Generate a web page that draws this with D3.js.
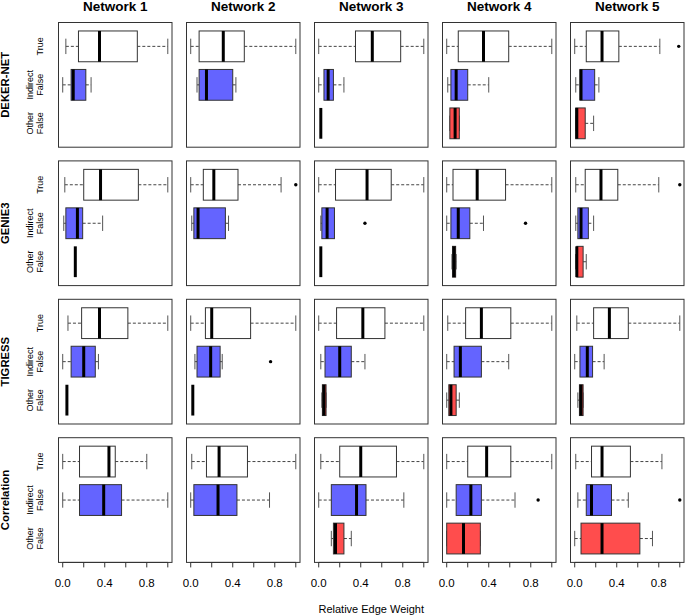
<!DOCTYPE html>
<html>
<head>
<meta charset="utf-8">
<script src="https://cdn.jsdelivr.net/npm/d3@7"></script>
<style>
  body { margin: 0; background: #fff; }
  svg { display: block; font-family: "Liberation Sans", Arial, sans-serif; }
</style>
</head>
<body>
<svg id="chart" width="685" height="615"></svg>
<script>
// --- Data: [lower whisker, Q1, median, Q3, upper whisker] per group ---
const methods = ["DEKER-NET", "GENIE3", "TIGRESS", "Correlation"];
const networks = ["Network 1", "Network 2", "Network 3", "Network 4", "Network 5"];
const groups = ["True", "Indirect False", "Other False"];
const xTicks = [0, 0.2, 0.4, 0.6, 0.8, 1.0];
const xTickLabels = [0, 0.4, 0.8];

// each network: [True, Indirect False, Other False]
const dekerNet = [
  [[0.03, 0.15, 0.35, 0.71, 1.0], [0.0, 0.08, 0.10, 0.22, 0.27], null],
  [[0.0, 0.08, 0.31, 0.51, 1.0], [0.06, 0.08, 0.15, 0.40, 0.43], null],
  [[0.0, 0.35, 0.51, 0.78, 1.0], [0.0, 0.05, 0.09, 0.14, 0.24], [0.02, 0.02, 0.02, 0.02, 0.02]],
  [[0.0, 0.11, 0.35, 0.59, 1.0], [0.01, 0.04, 0.09, 0.20, 0.40], [0.03, 0.03, 0.08, 0.12, 0.12]],
  [[0.0, 0.11, 0.26, 0.42, 0.81], [0.01, 0.05, 0.06, 0.19, 0.23], [0.01, 0.01, 0.02, 0.10, 0.18]]
];
const genie3 = [
  [[0.02, 0.20, 0.36, 0.72, 1.0], [0.01, 0.03, 0.14, 0.19, 0.38], [0.12, 0.12, 0.12, 0.12, 0.12]],
  [[0.0, 0.12, 0.22, 0.45, 0.86], [0.01, 0.03, 0.07, 0.33, 0.36], null],
  [[0.0, 0.16, 0.46, 0.69, 1.0], [0.02, 0.03, 0.08, 0.15, 0.15], [0.02, 0.02, 0.02, 0.02, 0.02]],
  [[0.0, 0.06, 0.29, 0.56, 1.0], [0.0, 0.04, 0.11, 0.22, 0.35], [0.05, 0.055, 0.07, 0.085, 0.09]],
  [[0.01, 0.10, 0.25, 0.41, 0.80], [0.01, 0.03, 0.06, 0.13, 0.18], [0.01, 0.02, 0.02, 0.08, 0.11]]
];
const tigress = [
  [[0.05, 0.18, 0.35, 0.62, 1.0], [0.0, 0.08, 0.20, 0.31, 0.34], [0.04, 0.04, 0.04, 0.04, 0.04]],
  [[0.0, 0.14, 0.20, 0.57, 1.0], [0.04, 0.06, 0.19, 0.28, 0.30], [0.02, 0.02, 0.02, 0.02, 0.02]],
  [[0.0, 0.17, 0.42, 0.63, 1.0], [0.02, 0.06, 0.20, 0.31, 0.44], [0.03, 0.035, 0.05, 0.07, 0.07]],
  [[0.01, 0.18, 0.33, 0.61, 1.0], [0.0, 0.07, 0.13, 0.33, 0.59], [0.0, 0.02, 0.04, 0.09, 0.12]],
  [[0.02, 0.18, 0.33, 0.51, 1.0], [0.0, 0.05, 0.12, 0.17, 0.28], [0.03, 0.045, 0.06, 0.08, 0.08]]
];
const correlation = [
  [[0.0, 0.16, 0.44, 0.50, 0.80], [0.0, 0.16, 0.39, 0.56, 1.0], null],
  [[0.01, 0.15, 0.27, 0.54, 1.0], [0.0, 0.03, 0.26, 0.44, 0.75], null],
  [[0.02, 0.20, 0.40, 0.74, 1.0], [0.0, 0.12, 0.36, 0.45, 0.81], [0.12, 0.14, 0.16, 0.24, 0.31]],
  [[0.0, 0.20, 0.38, 0.61, 1.0], [0.0, 0.09, 0.23, 0.33, 0.65], [0.0, 0.0, 0.16, 0.32, 0.32]],
  [[0.01, 0.16, 0.26, 0.53, 0.83], [0.03, 0.11, 0.16, 0.35, 0.51], [0.0, 0.06, 0.26, 0.62, 0.74]]
];
// outliers: [method, network, group, value]
const outliers = [
  [0, 4, 0, 0.99],
  [1, 1, 0, 1.0], [1, 2, 1, 0.44], [1, 3, 1, 0.75], [1, 4, 0, 1.0],
  [2, 1, 1, 0.76],
  [3, 3, 1, 0.87], [3, 4, 1, 1.0]
];
const stats = [dekerNet, genie3, tigress, correlation];

// --- Layout ---
const svg = d3.select("#chart");
const panelW = 113.5, panelH = 124.7;
const colStep = 128, rowStep = 138.4;
const left0 = 58.5, top0 = 22.5;

const fill = d3.scaleOrdinal().domain(groups).range(["#ffffff", "#6464ff", "#ff4d4d"]);
const x = d3.scaleLinear().domain([-0.04, 1.04]).range([0, panelW]);
const y = d3.scalePoint().domain(groups).range([0, panelH]).padding(0.62);
const half = y.step() * 0.4;

// column titles
svg.selectAll(".col-title")
  .data(networks)
  .join("text")
  .attr("x", (d, i) => left0 + i * colStep + panelW / 2)
  .attr("y", 11)
  .attr("text-anchor", "middle")
  .style("font-weight", "bold")
  .style("font-size", "13.5px")
  .text(d => d);

methods.forEach((m, r) => {
  const top = top0 + r * rowStep;

  // row title
  svg.append("text")
    .attr("transform", `translate(9,${top + y(groups[1])}) rotate(-90)`)
    .attr("text-anchor", "middle")
    .style("font-weight", "bold")
    .style("font-size", "11.3px")
    .text(m);

  // group labels (two lines when needed)
  groups.forEach(g => {
    const lines = g.split(" ");
    lines.forEach((ln, k) => {
      const bx = 43 - (lines.length - 1 - k) * 10;
      svg.append("text")
        .attr("transform", `translate(${bx},${top + y(g)}) rotate(-90)`)
        .attr("text-anchor", "middle")
        .style("font-size", "9px")
        .text(ln);
    });
  });

  networks.forEach((n, c) => {
    const left = left0 + c * colStep;
    const gp = svg.append("g").attr("transform", `translate(${left},${top})`);

    gp.append("rect")
      .attr("width", panelW).attr("height", panelH)
      .attr("fill", "none").attr("stroke", "#333").attr("stroke-width", 1);

    groups.forEach((g, gi) => {
      const s = stats[r][c][gi];
      if (!s) return;
      const [lo, q1, med, q3, hi] = s;
      const cy = y(g);
      // whiskers
      gp.append("line")
        .attr("x1", x(lo)).attr("x2", x(q1)).attr("y1", cy).attr("y2", cy)
        .attr("stroke", "#444").attr("stroke-dasharray", "3,2");
      gp.append("line")
        .attr("x1", x(q3)).attr("x2", x(hi)).attr("y1", cy).attr("y2", cy)
        .attr("stroke", "#444").attr("stroke-dasharray", "3,2");
      // staples
      [lo, hi].forEach(v => {
        gp.append("line")
          .attr("x1", x(v)).attr("x2", x(v))
          .attr("y1", cy - half / 2).attr("y2", cy + half / 2)
          .attr("stroke", "#555");
      });
      // box
      gp.append("rect")
        .attr("x", x(q1)).attr("y", cy - half)
        .attr("width", x(q3) - x(q1)).attr("height", 2 * half)
        .attr("fill", fill(g)).attr("stroke", "#333");
      // median
      gp.append("line")
        .attr("x1", x(med)).attr("x2", x(med))
        .attr("y1", cy - half).attr("y2", cy + half)
        .attr("stroke", "#000").attr("stroke-width", 3);
    });

    outliers.filter(o => o[0] === r && o[1] === c).forEach(o => {
      gp.append("circle")
        .attr("cx", x(o[3])).attr("cy", y(groups[o[2]]))
        .attr("r", 1.7).attr("fill", "#000");
    });

    // x axis on bottom row
    if (r === methods.length - 1) {
      const ax = gp.append("g").attr("transform", `translate(0,${panelH})`);
      ax.append("line")
        .attr("x1", x(0)).attr("x2", x(1)).attr("stroke", "#333");
      ax.selectAll(".tick")
        .data(xTicks)
        .join("line")
        .attr("x1", d => x(d)).attr("x2", d => x(d))
        .attr("y1", 0).attr("y2", 5)
        .attr("stroke", "#333");
      ax.selectAll(".lab")
        .data(xTickLabels)
        .join("text")
        .attr("x", d => x(d)).attr("y", 25)
        .attr("text-anchor", "middle")
        .style("font-size", "11.5px")
        .text(d3.format(".1f"));
    }
  });
});

// axis title
svg.append("text")
  .attr("x", left0 + (4 * colStep + panelW) / 2)
  .attr("y", 613)
  .attr("text-anchor", "middle")
  .style("font-size", "11px")
  .text("Relative Edge Weight");
</script>
</body>
</html>
